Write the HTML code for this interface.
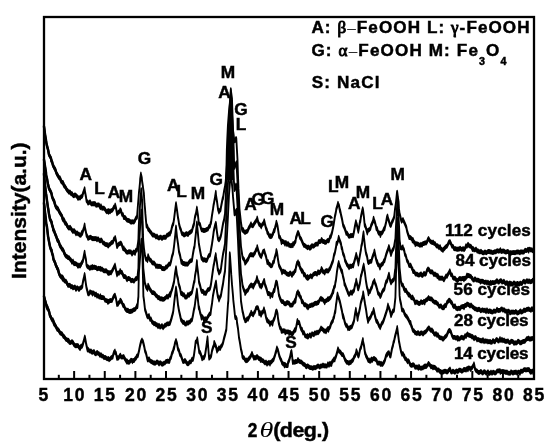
<!DOCTYPE html>
<html><head><meta charset="utf-8"><style>
html,body{margin:0;padding:0;background:#fff;}
svg{display:block;}
text{font-family:"Liberation Sans",Arial,sans-serif;font-weight:bold;fill:#000;}
.sym{font-family:"Liberation Serif","DejaVu Serif",serif;font-weight:normal;}
.st{stroke:#000;stroke-width:0.45px;}
.gk{stroke:#000;stroke-width:0.9px;}
.ns{stroke:none;}
</style></head><body>
<svg width="550" height="447" viewBox="0 0 550 447">
<rect width="550" height="447" fill="#fff"/>
<g fill="none" stroke="#000" stroke-width="1.85" stroke-linejoin="round" stroke-linecap="round" transform="scale(1,2.6)">
<polyline points="44.0,48.60 45.0,51.58 46.0,53.92 46.2,54.63 47.0,56.14 48.0,57.49 48.1,57.63 49.0,59.48 50.0,60.16 51.0,60.91 51.5,62.00 52.0,62.12 53.0,63.67 53.4,63.82 54.0,64.48 55.0,64.87 56.0,66.09 57.0,67.07 57.5,67.14 58.0,67.68 59.0,68.31 60.0,68.44 61.0,69.68 62.0,70.11 62.6,70.20 63.0,70.17 64.0,71.51 65.0,71.71 66.0,72.44 67.0,73.11 68.0,73.47 69.0,73.98 70.0,73.81 71.0,74.51 72.0,74.44 73.0,75.14 74.0,75.35 75.0,74.89 76.0,75.18 77.0,75.51 78.0,76.33 79.0,75.97 80.0,76.27 81.0,75.64 82.0,75.49 82.3,75.28 83.0,74.37 84.0,73.33 84.6,72.58 85.0,73.77 86.0,75.79 86.5,77.13 87.0,77.38 88.0,78.15 89.0,77.94 90.0,77.55 91.0,78.29 92.0,78.47 92.4,78.45 93.0,78.24 94.0,78.53 95.0,78.23 96.0,78.96 97.0,78.89 98.0,78.81 99.0,78.77 100.0,79.68 100.4,79.88 101.0,79.20 102.0,80.13 103.0,80.04 104.0,80.06 105.0,80.45 106.0,81.14 107.0,81.50 108.0,80.99 108.5,81.64 109.0,81.04 110.0,81.51 111.0,81.00 112.0,80.93 113.0,80.44 114.0,79.57 115.0,79.59 115.2,78.86 116.0,80.03 117.0,82.25 117.2,82.07 118.0,81.81 119.0,81.49 120.0,81.17 120.2,80.64 121.0,81.05 122.0,82.45 123.0,82.59 123.8,83.69 124.0,83.72 125.0,83.65 126.0,84.14 126.6,84.44 127.0,84.63 128.0,84.75 129.0,84.89 130.0,85.11 131.0,85.53 132.0,85.26 133.0,85.32 134.0,85.40 135.0,84.76 136.0,83.85 137.0,83.52 138.0,78.61 138.2,77.74 139.0,73.88 139.3,73.00 140.0,70.16 140.2,68.79 140.9,66.95 141.0,67.19 141.8,68.44 142.0,69.49 143.0,72.01 143.1,72.47 143.9,74.48 144.0,75.38 144.5,78.30 145.0,80.20 145.4,82.29 146.0,84.95 146.5,86.97 147.0,86.79 148.0,87.94 148.1,88.16 149.0,88.40 150.0,88.98 151.0,89.48 152.0,90.07 153.0,90.47 154.0,90.39 155.0,90.66 156.0,91.21 157.0,90.72 158.0,91.41 159.0,91.59 160.0,91.24 161.0,91.19 162.0,91.75 163.0,91.27 164.0,91.25 165.0,91.24 166.0,91.24 167.0,90.45 168.0,90.41 169.0,90.00 170.0,90.05 170.3,89.56 171.0,89.09 172.0,87.24 173.0,86.18 173.3,86.10 174.0,84.40 175.0,81.27 176.0,78.32 177.0,80.80 178.0,83.74 178.5,84.71 179.0,86.04 180.0,87.60 181.0,88.52 181.4,89.22 182.0,89.87 183.0,89.98 184.0,90.40 185.0,90.24 186.0,89.90 187.0,89.90 188.0,90.23 189.0,89.60 190.0,89.35 191.0,89.09 192.0,88.77 193.0,87.22 194.0,86.16 194.5,84.68 195.0,83.44 196.0,82.09 196.9,80.04 197.0,80.44 198.0,82.93 198.8,85.80 199.0,85.98 200.0,86.32 201.0,87.80 201.5,88.39 202.0,88.38 203.0,88.56 204.0,88.65 205.0,88.62 206.0,88.44 207.0,88.22 208.0,88.05 209.0,87.14 210.0,86.98 210.6,85.89 211.0,85.63 212.0,82.82 213.0,80.42 213.6,78.83 214.0,78.10 215.0,75.96 215.8,73.97 216.0,75.21 217.0,77.47 217.8,79.82 218.0,80.41 219.0,81.56 220.0,80.69 220.5,80.79 221.0,79.62 222.0,77.62 222.7,76.31 223.0,76.22 224.0,73.68 225.0,71.79 225.7,69.86 226.0,68.12 227.0,63.07 228.0,57.98 229.0,47.13 229.5,42.58 230.0,39.59 230.8,34.51 231.0,35.23 232.0,38.01 233.0,50.12 234.0,53.41 234.5,54.20 235.0,54.03 236.0,53.28 236.3,53.29 237.0,58.02 237.5,61.51 238.0,67.56 238.5,72.62 239.0,76.51 239.5,80.42 240.0,82.22 241.0,85.76 242.0,88.22 242.3,88.60 243.0,88.23 244.0,89.09 245.0,89.40 245.1,89.44 246.0,89.13 247.0,89.02 248.0,88.58 248.1,88.33 249.0,87.55 250.0,86.98 251.0,86.10 251.2,86.36 252.0,86.81 253.0,86.89 253.2,86.69 254.0,86.16 255.0,85.56 256.0,84.99 257.0,84.38 257.2,83.85 258.0,85.18 259.0,86.19 259.2,86.24 260.0,86.50 261.0,87.00 261.2,87.26 262.0,86.49 263.0,86.10 264.0,85.24 264.2,84.92 265.0,86.28 266.0,87.79 267.0,88.58 267.3,89.32 268.0,89.64 269.0,90.52 270.0,91.03 270.3,90.65 271.0,91.01 272.0,90.74 272.5,90.17 273.0,89.87 274.0,88.59 274.5,88.75 275.0,87.75 276.0,86.24 276.4,85.46 277.0,86.21 277.6,87.14 278.0,88.17 278.9,90.40 279.0,90.94 280.0,91.29 281.0,92.31 281.5,93.33 282.0,92.73 283.0,92.93 284.0,93.09 285.0,93.96 285.3,93.36 286.0,93.28 287.0,94.14 288.0,93.58 289.0,94.34 289.1,94.20 290.0,94.39 291.0,94.55 292.0,94.26 292.9,94.51 293.0,93.75 294.0,93.83 295.0,93.00 295.5,92.89 296.0,91.47 297.0,90.34 297.4,89.82 298.0,89.32 299.0,90.07 299.3,90.44 300.0,91.39 301.0,91.85 301.8,92.59 302.0,92.77 303.0,93.70 304.0,94.42 304.4,94.32 305.0,94.49 306.0,94.82 307.0,95.09 307.5,95.31 308.0,94.94 309.0,95.20 310.0,95.52 310.7,94.92 311.0,95.17 312.0,94.43 313.0,94.71 314.0,94.57 314.5,94.39 315.0,94.15 316.0,93.92 317.0,93.87 318.0,93.91 318.4,93.14 319.0,92.83 320.0,92.99 321.0,92.72 321.5,92.13 322.0,92.27 323.0,92.95 324.0,92.88 324.7,93.25 325.0,93.11 326.0,93.21 327.0,92.71 328.0,92.38 328.5,92.68 329.0,92.55 330.0,91.20 331.0,90.84 331.1,90.50 332.0,89.49 333.0,87.67 333.6,86.44 334.0,85.48 335.0,83.01 335.5,82.29 336.0,81.24 336.3,80.47 337.0,79.64 338.0,78.17 338.1,78.45 339.0,79.09 340.0,81.24 340.1,80.90 341.0,82.59 342.0,84.22 343.0,86.31 343.2,86.64 344.0,87.22 345.0,88.18 346.0,89.42 346.2,89.75 347.0,89.64 348.0,90.33 349.0,90.92 350.0,90.85 350.2,90.71 351.0,90.51 352.0,90.70 353.0,90.40 353.2,90.62 354.0,89.14 355.0,86.85 355.9,85.25 356.0,85.45 357.0,86.68 358.0,88.45 358.3,88.98 359.0,87.67 360.0,85.13 360.3,85.11 361.0,83.24 362.0,81.40 362.7,80.33 363.0,80.67 364.0,83.79 364.7,86.65 365.0,86.51 366.0,87.75 367.0,89.14 367.3,89.59 368.0,88.62 369.0,88.43 370.0,88.03 370.4,87.87 371.0,86.89 372.0,86.02 373.0,85.15 373.6,83.90 374.0,84.59 375.0,85.59 376.0,87.12 376.4,88.04 377.0,87.87 378.0,89.17 379.0,89.76 380.0,89.59 380.4,90.60 381.0,89.74 382.0,89.54 383.0,88.97 384.0,87.98 384.5,88.05 385.0,87.19 386.0,85.65 387.0,83.47 387.5,83.08 388.0,83.98 389.0,85.14 390.0,86.44 390.5,86.76 391.0,86.59 392.0,85.41 393.0,84.69 394.0,83.61 394.2,83.29 395.0,80.51 395.9,78.21 396.0,77.85 397.0,73.94 397.2,73.90 398.0,76.27 398.6,77.73 399.0,80.36 399.5,81.98 400.0,82.79 401.0,84.43 401.6,85.09 402.0,84.85 403.0,84.44 404.0,85.30 405.0,86.18 406.0,87.09 406.3,87.29 407.0,88.76 408.0,90.03 409.0,91.07 409.1,91.38 410.0,91.33 411.0,91.58 412.0,92.03 412.5,92.65 413.0,92.16 414.0,93.14 415.0,93.45 415.3,94.09 416.0,93.76 417.0,93.80 418.0,93.93 419.0,94.13 420.0,94.40 421.0,93.95 422.0,94.34 423.0,93.60 424.0,93.68 424.7,93.48 425.0,93.35 426.0,93.50 427.0,92.99 428.0,92.02 428.6,91.75 429.0,92.08 430.0,92.68 431.0,93.05 432.0,93.28 432.6,93.32 433.0,93.03 434.0,93.58 435.0,93.71 436.0,94.34 437.0,94.70 437.3,94.46 438.0,94.64 439.0,95.33 440.0,94.83 441.0,95.75 442.0,96.03 443.0,96.28 443.5,95.85 444.0,95.76 445.0,95.30 446.0,94.85 447.0,94.66 448.0,93.87 449.0,93.00 449.8,93.10 450.0,92.90 451.0,93.77 452.0,94.64 453.0,94.73 454.0,95.61 455.0,95.68 456.0,95.68 457.0,95.88 457.6,95.93 458.0,95.66 459.0,95.92 460.0,95.42 461.0,95.80 462.0,95.88 463.0,95.64 463.9,95.71 464.0,96.04 465.0,95.59 466.0,94.51 467.0,94.73 467.6,94.34 468.0,93.93 469.0,94.49 470.0,94.64 471.0,94.78 472.0,95.47 472.5,95.97 473.0,95.48 474.0,96.13 475.0,96.11 476.0,95.73 477.0,96.54 478.0,96.45 479.0,96.89 480.0,96.83 480.4,96.91 481.0,96.58 482.0,97.06 483.0,97.23 484.0,97.22 485.0,96.88 486.0,97.23 487.0,97.03 488.0,96.74 489.0,96.73 490.0,96.82 490.4,96.95 491.0,96.86 492.0,97.08 493.0,97.18 494.0,96.93 495.0,96.74 496.0,96.86 497.0,96.45 498.0,96.50 499.0,96.68 500.0,96.26 500.5,96.01 501.0,96.73 502.0,96.68 503.0,96.47 504.0,96.59 505.0,96.85 506.0,97.02 507.0,96.80 508.0,96.71 509.0,97.01 510.0,97.65 510.6,97.13 511.0,97.42 512.0,97.15 513.0,97.14 514.0,97.08 515.0,97.27 516.0,97.03 517.0,96.88 518.0,96.93 519.0,96.96 520.0,97.24 520.7,96.82 521.0,96.75 522.0,97.01 523.0,96.84 524.0,96.98 525.0,96.24 526.0,96.43 527.0,96.29 528.0,95.81 528.7,96.58 529.0,95.91 530.0,95.83 531.0,96.22 532.0,95.98 532.5,96.42"/>
<polyline points="44.0,61.40 45.0,63.93 46.0,66.41 46.2,67.55 47.0,68.66 48.0,71.04 48.1,70.93 49.0,72.50 50.0,73.18 51.0,73.95 51.5,74.38 52.0,75.51 53.0,76.60 53.4,76.85 54.0,77.15 55.0,78.58 56.0,79.66 57.0,80.13 57.5,80.00 58.0,80.39 59.0,81.19 60.0,82.00 61.0,82.51 62.0,83.16 62.6,84.09 63.0,84.55 64.0,84.51 65.0,85.82 66.0,85.91 67.0,86.77 68.0,87.42 69.0,87.80 70.0,87.33 71.0,87.94 72.0,88.51 73.0,89.12 74.0,88.62 75.0,89.11 76.0,89.91 77.0,89.53 78.0,89.95 79.0,90.07 80.0,90.55 81.0,90.39 82.0,89.30 82.3,89.71 83.0,88.78 84.0,87.56 84.6,86.51 85.0,87.73 86.0,89.38 86.5,90.51 87.0,90.63 88.0,91.72 89.0,91.47 90.0,91.31 91.0,91.25 92.0,91.78 92.4,91.69 93.0,91.85 94.0,91.65 95.0,91.85 96.0,91.64 97.0,92.28 98.0,91.76 99.0,92.29 100.0,92.68 100.4,92.65 101.0,92.26 102.0,92.63 103.0,93.42 104.0,93.48 105.0,93.92 106.0,94.14 107.0,93.98 108.0,94.62 108.5,94.58 109.0,94.12 110.0,93.98 111.0,93.52 112.0,93.21 113.0,93.12 114.0,91.87 115.0,91.83 115.2,91.32 116.0,92.65 117.0,94.88 117.2,94.84 118.0,94.23 119.0,93.79 120.0,93.70 120.2,93.54 121.0,93.50 122.0,94.31 123.0,95.60 123.8,95.40 124.0,95.79 125.0,96.05 126.0,96.76 126.6,96.83 127.0,97.05 128.0,96.96 129.0,96.78 130.0,96.91 131.0,96.92 132.0,97.71 133.0,97.15 134.0,96.85 135.0,97.50 136.0,96.18 137.0,96.20 137.3,95.27 138.0,93.49 138.4,92.05 138.8,86.84 139.0,85.36 140.0,78.98 140.3,77.16 141.0,74.27 141.2,72.93 142.0,76.59 142.1,76.87 142.7,86.18 143.0,90.31 143.2,92.39 144.0,95.68 144.5,97.04 145.0,98.31 145.5,99.20 146.0,99.73 147.0,99.71 147.5,100.24 148.0,99.01 148.1,98.36 149.0,99.28 150.0,99.97 151.0,100.21 152.0,100.94 153.0,101.21 154.0,101.16 155.0,101.59 156.0,102.50 157.0,102.19 158.0,102.59 159.0,102.34 160.0,102.52 161.0,102.54 162.0,103.31 163.0,103.19 164.0,103.39 165.0,103.25 166.0,102.65 167.0,102.70 168.0,102.09 169.0,101.55 170.0,101.62 170.3,101.45 171.0,100.50 172.0,98.65 173.0,97.50 173.3,96.74 174.0,94.87 175.0,91.34 176.0,87.30 177.0,91.17 178.0,93.75 178.5,95.31 179.0,96.77 180.0,98.14 181.0,100.11 181.4,100.92 182.0,100.53 183.0,101.44 184.0,101.27 185.0,101.67 186.0,101.44 187.0,101.65 188.0,101.50 189.0,100.93 190.0,100.43 191.0,100.28 192.0,100.06 193.0,97.54 194.0,95.41 194.5,94.87 195.0,92.88 196.0,89.26 196.9,85.79 197.0,86.14 198.0,90.14 198.8,93.51 199.0,94.05 200.0,96.22 201.0,98.30 201.5,99.33 202.0,99.32 203.0,100.07 204.0,99.85 205.0,99.93 206.0,100.23 207.0,100.08 208.0,98.96 209.0,98.26 210.0,98.13 210.6,97.01 211.0,96.08 212.0,93.83 213.0,91.23 213.6,89.31 214.0,88.47 215.0,86.78 215.8,85.84 216.0,86.11 217.0,89.38 217.8,91.43 218.0,91.87 219.0,92.28 220.0,91.65 220.5,91.11 221.0,90.49 222.0,88.40 223.0,86.12 224.0,84.66 225.0,82.32 226.0,73.86 227.0,65.15 228.0,59.89 229.0,53.77 230.0,48.92 230.8,44.96 231.0,46.09 232.0,50.12 232.5,52.08 233.0,55.48 234.0,61.73 234.5,64.38 235.0,63.67 236.0,63.03 236.4,62.57 237.0,66.35 238.0,73.38 239.0,82.10 239.5,86.34 240.0,89.18 241.0,94.94 242.0,97.57 242.5,98.83 243.0,99.29 244.0,99.80 245.0,100.90 245.1,101.23 246.0,100.79 247.0,100.21 248.0,99.65 248.1,99.71 249.0,98.77 250.0,98.08 251.0,97.85 251.2,98.00 252.0,97.90 253.0,98.16 253.2,98.18 254.0,97.65 255.0,97.20 256.0,96.10 257.0,95.79 257.2,94.89 258.0,95.98 259.0,97.35 259.2,97.48 260.0,98.19 261.0,98.56 261.2,98.73 262.0,97.93 263.0,96.75 264.0,96.61 264.2,96.47 265.0,97.50 266.0,98.67 267.0,100.44 267.3,101.03 268.0,100.61 269.0,101.60 270.0,101.79 270.3,102.06 271.0,102.29 272.0,102.17 272.5,101.80 273.0,100.90 274.0,100.62 274.5,99.45 275.0,98.78 276.0,97.47 276.4,96.31 277.0,97.13 277.6,98.63 278.0,99.81 278.9,101.89 279.0,102.05 280.0,102.84 281.0,103.59 281.5,104.15 282.0,104.90 283.0,104.22 284.0,104.51 285.0,104.64 285.3,104.57 286.0,105.05 287.0,105.36 288.0,105.55 289.0,105.46 289.1,105.65 290.0,104.94 291.0,105.25 292.0,105.93 292.9,105.16 293.0,105.28 294.0,104.89 295.0,104.10 295.5,104.06 296.0,102.74 297.0,101.20 297.4,101.18 298.0,100.73 299.0,101.94 299.3,101.42 300.0,102.87 301.0,103.58 301.8,104.36 302.0,104.01 303.0,104.53 304.0,105.77 304.4,105.47 305.0,105.67 306.0,106.57 307.0,106.93 307.5,106.32 308.0,107.10 309.0,106.59 310.0,106.33 310.7,105.99 311.0,106.19 312.0,106.55 313.0,105.69 314.0,105.36 314.5,105.27 315.0,105.16 316.0,105.17 317.0,105.49 318.0,104.52 318.4,104.55 319.0,104.98 320.0,104.60 321.0,104.15 321.5,103.26 322.0,103.57 323.0,104.55 324.0,104.54 324.7,105.03 325.0,104.60 326.0,104.08 327.0,104.13 328.0,104.25 328.5,104.15 329.0,103.76 330.0,103.27 331.0,102.33 332.0,101.22 332.5,100.80 333.0,100.27 334.0,98.06 334.4,97.78 335.0,96.99 336.0,95.08 336.5,93.55 337.0,93.76 338.0,92.61 338.7,91.27 339.0,91.71 340.0,92.80 341.0,93.82 341.6,95.36 342.0,95.46 343.0,97.44 344.0,98.29 344.5,98.97 345.0,100.15 346.0,100.84 347.0,101.78 348.0,102.26 348.9,102.79 349.0,103.00 350.0,102.25 351.0,102.53 352.0,102.31 353.0,101.90 353.3,102.28 354.0,101.02 355.0,99.74 356.0,98.17 356.2,97.83 357.0,98.99 358.0,100.61 358.4,101.52 359.0,100.21 360.0,98.02 361.0,95.87 361.3,94.73 362.0,93.76 363.0,90.82 363.5,89.54 364.0,91.49 365.0,94.91 365.6,96.47 366.0,97.36 367.0,98.57 368.0,100.74 368.5,101.03 369.0,100.87 370.0,100.55 371.0,100.49 371.5,100.41 372.0,99.46 373.0,98.32 374.0,97.42 374.4,96.49 375.0,97.69 376.0,99.52 377.0,100.90 377.3,100.67 378.0,101.81 379.0,101.96 380.0,103.10 380.2,102.65 381.0,101.98 382.0,101.64 383.0,101.30 384.0,100.22 384.5,100.30 385.0,99.58 386.0,98.11 387.0,96.92 388.0,95.96 388.9,94.83 389.0,94.93 390.0,96.45 391.0,97.91 391.1,97.77 392.0,96.65 393.0,95.91 393.5,95.65 394.0,94.96 395.0,92.70 395.4,91.92 396.0,86.76 397.0,79.80 397.5,76.10 398.0,79.78 399.0,86.54 399.6,92.34 400.0,93.60 400.6,95.30 401.0,95.31 402.0,95.38 402.8,94.95 403.0,95.40 404.0,96.03 405.0,97.89 405.8,98.35 406.0,98.67 407.0,100.19 408.0,100.77 408.5,101.25 409.0,102.03 410.0,102.21 410.5,101.92 411.0,102.26 412.0,103.34 412.5,103.41 413.0,104.45 414.0,104.40 415.0,105.03 415.3,105.31 416.0,105.46 417.0,105.46 418.0,105.71 419.0,105.80 420.0,105.66 421.0,105.29 422.0,106.03 423.0,105.71 424.0,105.08 424.7,105.37 425.0,105.51 426.0,105.27 427.0,103.96 428.0,103.44 428.6,103.60 429.0,103.67 430.0,104.40 431.0,104.64 432.0,104.48 432.6,104.74 433.0,105.02 434.0,105.62 435.0,105.31 436.0,105.81 437.0,105.85 437.3,106.45 438.0,106.02 439.0,107.06 440.0,106.88 441.0,107.13 442.0,106.88 443.0,107.21 443.5,107.53 444.0,107.65 445.0,106.86 446.0,106.14 447.0,106.26 448.0,105.45 449.0,104.82 449.8,104.11 450.0,104.34 451.0,105.66 452.0,105.71 453.0,106.84 454.0,107.09 455.0,107.01 456.0,107.56 457.0,107.86 457.6,107.91 458.0,107.79 459.0,107.24 460.0,107.06 461.0,107.36 462.0,107.20 463.0,107.04 463.9,107.63 464.0,106.98 465.0,107.16 466.0,106.88 467.0,105.75 467.6,106.25 468.0,105.88 469.0,105.99 470.0,106.24 471.0,106.38 472.0,107.08 472.5,107.11 473.0,107.62 474.0,107.74 475.0,107.17 476.0,107.63 477.0,107.76 478.0,107.71 479.0,107.92 480.0,108.07 480.4,108.53 481.0,108.23 482.0,108.08 483.0,108.23 484.0,108.49 485.0,108.66 486.0,108.42 487.0,108.90 488.0,108.50 489.0,108.98 490.0,108.98 490.4,108.60 491.0,109.08 492.0,108.66 493.0,108.70 494.0,108.67 495.0,108.60 496.0,108.34 497.0,107.89 498.0,108.48 499.0,108.46 500.0,108.03 500.5,108.06 501.0,107.84 502.0,108.53 503.0,108.45 504.0,108.14 505.0,108.80 506.0,109.08 507.0,108.60 508.0,109.32 509.0,108.96 510.0,108.79 510.6,109.36 511.0,109.00 512.0,109.34 513.0,109.18 514.0,108.72 515.0,109.09 516.0,109.37 517.0,109.00 518.0,109.04 519.0,109.32 520.0,108.91 520.7,108.94 521.0,108.98 522.0,109.07 523.0,108.36 524.0,108.13 525.0,108.61 526.0,108.29 527.0,107.92 528.0,108.33 528.7,108.23 529.0,107.93 530.0,108.38 531.0,108.28 532.0,108.24 532.5,107.84"/>
<polyline points="44.0,66.86 45.0,71.06 46.0,74.51 46.2,74.84 47.0,77.16 48.0,80.00 48.1,79.99 49.0,82.30 50.0,84.29 51.0,85.09 51.5,85.31 52.0,86.43 53.0,87.62 53.4,88.55 54.0,88.66 55.0,89.90 56.0,90.68 57.0,91.84 57.5,92.47 58.0,92.48 59.0,93.32 60.0,94.60 61.0,94.95 62.0,95.84 62.6,95.90 63.0,96.07 64.0,97.05 65.0,97.99 66.0,98.47 67.0,98.68 68.0,99.10 69.0,99.13 70.0,99.67 71.0,100.04 72.0,100.90 73.0,100.41 74.0,101.45 75.0,101.29 76.0,101.53 77.0,101.65 78.0,102.44 79.0,101.87 80.0,102.37 81.0,101.73 82.0,100.86 82.3,100.70 83.0,100.13 84.0,98.14 84.6,96.99 85.0,98.17 86.0,99.99 86.5,101.83 87.0,102.30 88.0,102.67 89.0,102.86 90.0,103.30 91.0,102.68 92.0,103.05 92.4,102.49 93.0,102.98 94.0,102.66 95.0,102.92 96.0,102.84 97.0,103.37 98.0,103.32 99.0,103.17 100.0,103.40 100.4,103.19 101.0,103.67 102.0,103.40 103.0,103.89 104.0,104.16 105.0,104.19 106.0,104.09 107.0,104.43 108.0,105.08 108.5,104.79 109.0,105.20 110.0,104.77 111.0,105.00 112.0,104.28 113.0,103.56 114.0,102.75 115.0,101.97 115.2,102.35 116.0,103.88 117.0,105.73 117.2,105.41 118.0,104.93 119.0,105.14 120.0,104.36 120.2,104.02 121.0,104.73 122.0,104.79 123.0,105.76 123.8,106.36 124.0,106.37 125.0,106.34 126.0,106.69 126.6,107.36 127.0,107.65 128.0,107.10 129.0,107.11 130.0,107.31 131.0,108.04 132.0,107.77 133.0,107.92 134.0,108.19 135.0,107.60 136.0,107.05 137.0,107.22 137.5,106.46 138.0,104.58 138.4,103.26 138.8,95.85 139.0,94.38 140.0,88.09 140.4,85.23 141.0,83.25 141.3,81.17 142.0,84.81 142.2,85.28 142.8,96.44 143.0,98.87 143.3,103.23 144.0,105.61 144.8,108.59 145.0,109.00 146.0,110.32 147.0,110.90 147.5,111.29 148.0,110.24 148.1,109.70 149.0,110.45 150.0,111.29 151.0,111.86 152.0,112.51 153.0,112.58 154.0,112.68 155.0,113.02 156.0,113.66 157.0,113.87 158.0,114.56 159.0,114.37 160.0,114.92 161.0,114.86 162.0,115.00 163.0,115.16 164.0,115.05 165.0,114.73 166.0,114.39 167.0,113.93 168.0,114.37 169.0,113.69 170.0,112.91 170.3,113.55 171.0,112.44 172.0,111.34 173.0,110.03 173.3,109.40 174.0,108.49 175.0,105.27 176.0,103.00 177.0,105.89 178.0,107.38 178.5,108.88 179.0,109.58 180.0,110.80 181.0,112.87 181.4,112.97 182.0,112.76 183.0,113.46 184.0,113.31 185.0,114.23 186.0,114.24 187.0,114.14 188.0,113.21 189.0,113.65 190.0,113.00 191.0,112.84 192.0,112.37 193.0,110.56 194.0,108.58 194.5,108.13 195.0,106.17 196.0,104.06 196.9,100.59 197.0,101.80 198.0,104.73 198.8,107.55 199.0,108.45 200.0,109.71 201.0,111.38 201.5,111.87 202.0,112.14 203.0,111.95 204.0,112.81 205.0,112.59 206.0,112.93 207.0,111.98 208.0,111.40 209.0,111.32 210.0,110.92 210.6,110.07 211.0,109.28 212.0,106.50 213.0,103.70 213.6,102.18 214.0,101.56 215.0,99.17 215.8,97.94 216.0,98.89 217.0,101.21 217.8,103.62 218.0,103.67 219.0,105.02 220.0,104.50 220.5,104.19 221.0,103.21 222.0,100.41 223.0,97.80 224.0,96.00 225.0,93.82 226.0,85.34 227.0,77.00 228.0,70.29 229.0,63.22 230.0,57.83 230.8,53.48 231.0,54.45 232.0,59.28 232.5,61.31 233.0,64.78 234.0,70.25 234.5,72.93 235.0,72.51 236.0,71.13 236.4,71.37 237.0,75.71 238.0,82.57 239.0,91.87 239.5,95.94 240.0,99.10 241.0,105.52 242.0,108.05 242.5,109.71 243.0,110.34 244.0,111.59 245.0,112.18 245.1,112.92 246.0,112.30 247.0,111.81 248.0,111.54 248.1,111.44 249.0,110.59 250.0,110.07 251.0,109.60 251.2,109.53 252.0,110.02 253.0,109.73 253.2,110.45 254.0,109.74 255.0,108.88 256.0,108.34 257.0,106.78 257.2,107.21 258.0,108.26 259.0,108.71 259.2,109.38 260.0,110.01 261.0,109.79 261.2,110.38 262.0,109.91 263.0,108.83 264.0,107.91 264.2,107.85 265.0,109.51 266.0,110.49 267.0,111.75 267.3,112.28 268.0,113.05 269.0,112.88 270.0,113.12 270.3,114.11 271.0,113.40 272.0,113.29 272.5,113.74 273.0,112.62 274.0,111.48 274.5,111.73 275.0,110.28 276.0,108.53 276.4,108.50 277.0,108.71 277.6,110.19 278.0,110.85 278.9,113.48 279.0,113.48 280.0,114.67 281.0,115.57 281.5,115.86 282.0,116.03 283.0,115.99 284.0,116.63 285.0,116.87 285.3,116.75 286.0,116.88 287.0,116.28 288.0,116.54 289.0,116.60 289.1,116.56 290.0,117.35 291.0,117.34 292.0,117.39 292.9,117.11 293.0,116.64 294.0,116.33 295.0,115.39 295.5,115.88 296.0,114.42 297.0,112.72 297.4,112.63 298.0,112.25 299.0,113.42 299.3,113.00 300.0,114.03 301.0,114.51 301.8,116.03 302.0,115.69 303.0,116.23 304.0,117.10 304.4,117.27 305.0,117.14 306.0,117.33 307.0,118.05 307.5,117.70 308.0,118.42 309.0,117.81 310.0,117.52 310.7,117.58 311.0,117.32 312.0,117.30 313.0,117.30 314.0,116.97 314.5,116.80 315.0,116.66 316.0,116.63 317.0,116.70 318.0,116.18 318.4,116.41 319.0,115.88 320.0,115.11 321.0,114.71 321.5,115.12 322.0,114.99 323.0,115.31 324.0,115.85 324.7,116.45 325.0,115.94 326.0,115.67 327.0,115.41 328.0,114.83 328.5,115.19 329.0,114.96 330.0,114.63 330.6,114.38 331.0,114.02 332.0,113.29 333.0,111.84 333.3,112.29 334.0,110.58 335.0,109.96 335.3,108.93 336.0,107.60 337.0,104.39 338.0,102.05 338.7,100.96 339.0,101.56 340.0,102.62 341.0,103.71 341.6,104.44 342.0,104.28 343.0,106.32 344.0,107.81 344.5,109.27 345.0,109.44 346.0,110.59 347.0,111.52 348.0,112.59 348.9,113.09 349.0,113.26 350.0,112.83 351.0,112.28 352.0,112.90 353.0,112.05 353.3,112.00 354.0,111.68 355.0,109.72 356.0,108.63 356.2,107.76 357.0,109.14 358.0,111.13 358.4,111.11 359.0,110.33 360.0,108.70 361.0,106.00 361.3,105.84 362.0,104.74 363.0,102.98 363.7,101.98 364.0,102.80 365.0,105.12 365.6,107.06 366.0,108.15 367.0,110.47 368.0,111.70 368.5,113.00 369.0,112.21 370.0,112.13 371.0,111.01 371.5,110.71 372.0,110.32 373.0,108.76 374.0,108.25 374.4,107.89 375.0,108.82 376.0,109.73 377.0,111.13 377.3,111.50 378.0,112.71 379.0,113.06 380.0,113.78 380.2,114.06 381.0,113.60 382.0,112.47 383.0,111.71 384.0,111.33 384.5,110.95 385.0,109.90 386.0,108.49 387.0,108.07 388.0,106.68 388.9,105.47 389.0,105.46 390.0,107.64 391.0,108.81 391.1,108.78 392.0,108.14 393.0,107.79 394.0,107.44 395.0,104.17 395.4,103.49 396.0,96.29 397.0,88.17 397.5,84.38 398.0,88.30 399.0,96.26 399.6,103.07 400.0,104.64 401.0,108.45 402.0,109.57 403.0,109.79 404.0,111.14 404.2,110.85 405.0,111.78 406.0,111.58 407.0,112.48 408.0,112.96 408.5,113.46 409.0,113.23 410.0,113.77 410.5,113.89 411.0,114.39 412.0,114.62 412.5,114.19 413.0,114.63 414.0,115.20 415.0,116.45 415.3,116.15 416.0,116.31 417.0,116.12 418.0,116.53 419.0,116.74 420.0,116.68 421.0,116.00 422.0,116.34 423.0,116.32 424.0,115.85 424.7,116.49 425.0,115.92 426.0,115.44 427.0,115.28 428.0,114.78 428.6,114.42 429.0,114.88 430.0,114.87 431.0,115.01 432.0,115.05 432.6,115.68 433.0,115.64 434.0,116.12 435.0,116.26 436.0,116.27 437.0,116.62 437.3,116.83 438.0,116.91 439.0,117.81 440.0,117.76 441.0,117.65 442.0,118.29 443.0,118.42 443.5,117.99 444.0,118.38 445.0,117.41 446.0,117.63 447.0,116.33 448.0,115.94 449.0,115.40 449.8,115.55 450.0,115.67 451.0,116.20 452.0,116.57 453.0,117.59 454.0,118.01 455.0,117.58 456.0,118.55 457.0,118.65 457.6,118.83 458.0,118.60 459.0,118.48 460.0,118.76 461.0,118.06 462.0,118.05 463.0,117.84 463.9,117.85 464.0,118.38 465.0,117.35 466.0,117.57 467.0,116.87 467.6,117.08 468.0,117.08 469.0,117.29 470.0,117.72 471.0,117.25 472.0,117.74 472.5,117.97 473.0,118.10 474.0,118.46 475.0,118.80 476.0,118.82 477.0,119.14 478.0,119.07 479.0,118.90 480.0,119.18 480.4,119.46 481.0,119.56 482.0,119.20 483.0,119.24 484.0,119.54 485.0,119.24 486.0,119.90 487.0,119.14 488.0,119.80 489.0,119.71 490.0,119.50 490.4,119.86 491.0,119.72 492.0,120.08 493.0,119.92 494.0,119.56 495.0,119.74 496.0,119.66 497.0,118.91 498.0,119.43 499.0,119.35 500.0,119.40 500.5,119.14 501.0,118.86 502.0,118.81 503.0,119.34 504.0,119.05 505.0,119.67 506.0,119.61 507.0,119.97 508.0,119.65 509.0,119.72 510.0,120.39 510.6,120.24 511.0,119.96 512.0,120.11 513.0,119.98 514.0,120.15 515.0,120.02 516.0,119.78 517.0,120.40 518.0,120.29 519.0,120.16 520.0,119.70 520.7,119.60 521.0,120.06 522.0,120.01 523.0,119.72 524.0,119.19 525.0,119.52 526.0,119.21 527.0,118.94 528.0,119.01 528.7,118.78 529.0,118.98 530.0,119.12 531.0,119.38 532.0,118.61 532.5,119.06"/>
<polyline points="44.0,78.10 45.0,81.49 46.0,84.88 46.2,85.83 47.0,87.33 48.0,90.85 48.1,90.98 49.0,92.90 50.0,94.83 51.0,96.11 51.5,96.15 52.0,97.25 53.0,98.45 53.4,99.64 54.0,100.17 55.0,100.94 56.0,102.20 57.0,102.86 57.5,103.48 58.0,103.61 59.0,105.18 60.0,106.01 61.0,106.51 62.0,106.38 62.6,107.35 63.0,106.79 64.0,107.77 65.0,108.16 66.0,108.18 67.0,108.94 68.0,109.78 69.0,109.76 70.0,109.70 71.0,110.39 72.0,110.12 73.0,110.78 74.0,110.49 75.0,110.35 76.0,111.33 77.0,110.66 78.0,110.86 79.0,111.37 80.0,110.80 81.0,110.63 82.0,110.35 82.3,109.93 83.0,108.32 84.0,106.72 84.6,105.60 85.0,106.53 86.0,109.49 86.5,110.67 87.0,111.31 88.0,112.99 89.0,113.04 90.0,112.21 91.0,112.46 92.0,112.56 92.4,113.11 93.0,112.65 94.0,112.76 95.0,113.45 96.0,113.04 97.0,113.94 98.0,113.62 99.0,114.19 100.0,114.27 100.4,113.77 101.0,114.46 102.0,114.39 103.0,114.48 104.0,114.58 105.0,115.45 106.0,115.57 107.0,115.59 108.0,116.33 108.5,115.87 109.0,116.03 110.0,115.54 111.0,115.63 112.0,115.55 113.0,114.62 114.0,113.86 115.0,113.50 115.2,113.79 116.0,114.83 117.0,117.13 117.2,116.71 118.0,117.04 119.0,116.30 120.0,115.98 120.2,115.44 121.0,115.69 122.0,116.43 123.0,117.49 123.8,117.45 124.0,117.61 125.0,118.64 126.0,119.14 126.6,119.37 127.0,119.42 128.0,119.33 129.0,119.79 130.0,119.80 131.0,119.72 132.0,119.65 133.0,119.33 134.0,119.12 135.0,119.00 136.0,118.50 137.0,117.50 137.5,117.93 138.0,115.54 138.4,114.07 138.8,106.13 139.0,104.39 140.0,99.34 140.5,96.58 141.0,94.02 141.4,92.35 142.0,95.28 142.3,96.51 142.9,106.04 143.0,107.30 143.4,113.94 144.0,115.51 145.0,118.99 146.0,120.18 147.0,121.51 148.0,121.93 148.1,121.70 149.0,121.37 150.0,122.81 151.0,122.69 152.0,123.79 153.0,124.10 154.0,124.53 155.0,124.40 156.0,124.91 157.0,124.85 158.0,125.65 159.0,125.05 160.0,125.83 161.0,125.63 162.0,125.20 163.0,126.08 164.0,125.57 165.0,125.09 166.0,125.02 167.0,124.56 168.0,124.54 169.0,124.51 170.0,124.35 170.3,123.89 171.0,123.13 172.0,121.73 173.0,120.26 173.3,119.54 174.0,117.12 175.0,113.74 176.0,110.80 177.0,113.60 178.0,117.21 178.5,118.37 179.0,119.47 180.0,121.14 181.0,122.93 181.4,123.17 182.0,123.42 183.0,124.08 184.0,123.90 185.0,124.58 186.0,124.70 187.0,124.02 188.0,124.39 189.0,123.92 190.0,123.90 191.0,123.18 192.0,123.06 193.0,121.19 194.0,118.93 194.5,118.32 195.0,116.94 196.0,113.95 196.9,111.54 197.0,112.13 198.0,115.61 198.8,118.48 199.0,118.15 200.0,120.07 201.0,121.40 201.5,122.39 202.0,121.68 203.0,122.14 204.0,123.18 205.0,122.54 206.0,122.76 207.0,122.57 208.0,121.74 209.0,121.14 210.0,120.60 210.6,120.60 211.0,119.14 212.0,116.76 213.0,113.70 213.6,112.51 214.0,111.68 215.0,109.97 215.8,108.63 216.0,108.45 217.0,112.06 217.8,113.96 218.0,113.90 219.0,115.37 220.0,114.26 220.5,114.01 221.0,113.48 222.0,111.20 223.0,109.18 224.0,106.42 225.0,104.25 226.0,97.39 227.0,90.38 228.0,82.89 229.0,74.81 230.0,69.88 230.8,65.46 231.0,66.09 232.0,71.08 232.5,72.68 233.0,75.57 234.0,80.00 234.5,82.27 235.0,82.16 236.0,81.19 236.4,80.87 237.0,84.98 238.0,92.70 239.0,101.54 239.5,105.45 240.0,108.52 241.0,115.81 242.0,118.38 242.5,119.64 243.0,120.38 244.0,122.22 245.0,123.10 245.1,123.41 246.0,123.35 247.0,122.67 248.0,122.56 248.1,122.80 249.0,122.03 250.0,121.19 251.0,120.49 251.2,120.06 252.0,120.68 253.0,121.07 253.2,121.09 254.0,120.38 255.0,119.84 256.0,118.56 257.0,118.25 257.2,118.35 258.0,118.41 259.0,119.79 259.2,120.70 260.0,120.18 261.0,121.24 261.2,121.10 262.0,120.12 263.0,120.00 264.0,118.78 264.2,119.43 265.0,120.02 266.0,121.96 267.0,123.31 267.3,123.01 268.0,123.58 269.0,123.81 270.0,124.84 270.3,124.36 271.0,124.22 272.0,124.09 272.5,124.69 273.0,123.64 274.0,122.76 274.5,122.39 275.0,121.63 276.0,119.78 276.4,119.59 277.0,119.89 277.6,120.89 278.0,122.42 278.9,124.52 279.0,124.54 280.0,126.05 281.0,126.45 281.5,127.43 282.0,127.44 283.0,127.18 284.0,127.30 285.0,127.24 285.3,128.00 286.0,127.67 287.0,127.68 288.0,127.63 289.0,127.78 289.1,128.39 290.0,127.75 291.0,128.20 292.0,128.31 292.9,128.26 293.0,128.19 294.0,127.50 295.0,126.72 295.5,127.01 296.0,126.22 297.0,124.19 297.4,123.22 298.0,124.13 299.0,123.98 299.3,124.11 300.0,125.23 301.0,126.42 301.8,126.98 302.0,126.67 303.0,128.07 304.0,127.91 304.4,128.32 305.0,129.10 306.0,129.23 307.0,129.51 307.5,129.04 308.0,129.69 309.0,129.16 310.0,128.68 310.7,129.32 311.0,129.39 312.0,128.37 313.0,128.55 314.0,128.76 314.5,128.13 315.0,128.01 316.0,128.25 317.0,127.75 318.0,128.06 318.4,127.86 319.0,127.60 320.0,127.03 321.0,126.12 321.5,126.36 322.0,126.47 323.0,126.81 324.0,127.30 324.7,127.36 325.0,127.19 326.0,127.60 327.0,126.84 328.0,126.35 328.5,127.02 329.0,126.28 330.0,125.81 330.6,125.12 331.0,124.56 332.0,123.78 333.0,123.28 333.3,122.48 334.0,121.98 335.0,119.87 335.3,119.94 336.0,117.28 336.5,116.10 337.0,114.43 337.5,113.06 338.0,113.95 339.0,114.90 339.4,115.50 340.0,116.21 341.0,117.98 342.0,119.67 343.0,121.89 343.1,121.31 344.0,122.65 345.0,124.21 346.0,125.11 347.0,125.28 348.0,126.44 349.0,126.09 349.6,126.40 350.0,126.04 351.0,125.82 352.0,125.59 353.0,124.45 353.3,124.26 354.0,123.38 355.0,120.78 355.9,118.98 356.0,119.77 357.0,121.23 357.6,122.83 358.0,121.71 359.0,120.19 360.0,118.49 360.5,117.15 361.0,116.21 362.0,114.98 363.0,113.50 363.2,112.59 364.0,114.48 364.9,116.54 365.0,116.89 366.0,118.98 367.0,121.65 367.8,123.12 368.0,123.64 369.0,122.75 370.0,122.24 370.7,121.84 371.0,121.57 372.0,120.59 373.0,120.15 373.6,119.08 374.0,119.68 375.0,121.60 376.0,123.05 376.5,123.59 377.0,123.49 378.0,124.33 379.0,125.25 380.0,125.78 380.2,126.01 381.0,125.16 382.0,124.27 383.0,123.83 384.0,122.78 384.5,122.18 385.0,121.57 386.0,120.42 387.0,119.21 388.0,117.31 388.2,117.82 389.0,118.46 390.0,119.60 391.0,121.42 391.1,121.35 392.0,120.45 393.0,119.57 394.0,119.37 395.0,115.93 395.4,114.50 396.0,105.40 397.0,97.12 397.5,92.47 398.0,97.29 399.0,105.80 399.6,113.65 400.0,115.17 400.5,116.11 401.0,116.86 402.0,119.22 403.0,119.27 404.0,119.88 404.2,120.38 405.0,121.02 406.0,121.52 407.0,121.83 407.1,121.99 408.0,122.55 409.0,123.36 410.0,124.26 410.5,124.02 411.0,124.97 412.0,125.95 412.5,126.69 413.0,127.11 414.0,127.27 415.0,128.01 415.3,127.87 416.0,128.08 417.0,128.31 418.0,127.84 419.0,128.33 420.0,128.39 421.0,128.03 422.0,128.02 423.0,128.49 424.0,127.98 424.7,127.79 425.0,127.74 426.0,127.49 427.0,126.92 428.0,126.41 428.6,126.11 429.0,126.13 430.0,126.69 431.0,127.08 432.0,126.90 432.6,127.55 433.0,127.41 434.0,128.35 435.0,128.63 436.0,128.21 437.0,129.05 437.3,128.82 438.0,128.74 439.0,129.65 440.0,129.87 441.0,129.96 442.0,130.02 443.0,130.53 443.5,130.24 444.0,130.11 445.0,129.59 446.0,129.29 447.0,128.77 448.0,127.75 449.0,127.14 449.8,127.04 450.0,127.23 451.0,127.77 452.0,129.00 453.0,129.74 454.0,129.76 455.0,129.79 456.0,130.10 457.0,129.81 457.6,130.48 458.0,129.83 459.0,130.50 460.0,130.19 461.0,129.82 462.0,129.69 463.0,130.02 463.9,129.85 464.0,130.03 465.0,129.09 466.0,129.42 467.0,128.63 467.6,128.41 468.0,128.79 469.0,128.94 470.0,129.07 471.0,129.20 472.0,129.64 472.5,129.38 473.0,129.65 474.0,130.32 475.0,129.81 476.0,129.92 477.0,130.76 478.0,130.47 479.0,130.75 480.0,130.95 480.4,131.12 481.0,130.79 482.0,131.26 483.0,130.60 484.0,131.44 485.0,130.99 486.0,131.34 487.0,131.10 488.0,131.56 489.0,131.27 490.0,131.53 490.4,131.30 491.0,131.71 492.0,131.57 493.0,130.95 494.0,131.37 495.0,131.45 496.0,130.71 497.0,130.57 498.0,131.16 499.0,131.10 500.0,130.24 500.5,130.79 501.0,130.99 502.0,130.49 503.0,131.08 504.0,130.75 505.0,131.32 506.0,131.17 507.0,131.26 508.0,131.05 509.0,131.65 510.0,131.81 510.6,131.50 511.0,131.26 512.0,131.28 513.0,131.42 514.0,132.07 515.0,131.82 516.0,131.93 517.0,131.78 518.0,131.18 519.0,131.39 520.0,131.89 520.7,131.79 521.0,131.88 522.0,131.58 523.0,131.35 524.0,131.26 525.0,131.27 526.0,130.68 527.0,130.18 528.0,130.31 528.7,129.94 529.0,130.19 530.0,130.52 531.0,130.27 532.0,130.29 532.5,130.16"/>
<polyline points="44.0,114.02 45.0,115.47 46.0,116.83 47.0,118.46 47.2,117.91 48.0,118.86 49.0,119.68 50.0,121.44 50.7,121.85 51.0,122.11 52.0,123.02 53.0,123.04 54.0,124.64 54.3,124.35 55.0,125.09 56.0,125.56 57.0,126.55 57.9,126.74 58.0,126.76 59.0,127.18 60.0,128.06 61.0,128.25 62.0,128.42 63.0,129.04 63.3,129.37 64.0,129.42 65.0,129.95 66.0,130.51 67.0,130.64 68.0,131.12 68.6,130.86 69.0,131.48 70.0,131.78 71.0,131.64 72.0,131.41 73.0,131.71 74.0,132.57 75.0,132.92 75.8,132.98 76.0,132.82 77.0,133.06 78.0,132.88 79.0,133.53 80.0,134.12 81.0,133.09 82.0,133.18 83.0,132.20 84.0,130.83 84.8,129.59 85.0,129.82 86.0,131.95 87.0,133.79 87.5,134.58 88.0,134.26 89.0,134.82 90.0,135.12 91.0,134.96 92.0,135.55 93.0,135.45 93.1,135.30 94.0,135.20 95.0,135.97 96.0,136.09 97.0,135.53 97.5,135.60 98.0,135.93 99.0,136.03 100.0,136.71 101.0,136.40 101.8,136.92 102.0,136.93 103.0,136.94 104.0,137.60 105.0,137.40 106.0,137.66 107.0,138.00 108.0,137.95 108.4,137.83 109.0,138.41 110.0,138.03 111.0,137.65 112.0,137.40 112.7,137.38 113.0,136.77 114.0,135.53 114.9,135.04 115.0,135.48 116.0,135.90 117.0,137.87 117.1,137.42 118.0,137.81 119.0,137.39 120.0,136.72 120.4,136.58 121.0,137.24 122.0,137.38 123.0,137.29 123.6,137.12 124.0,137.31 125.0,138.11 126.0,138.74 126.9,139.27 127.0,138.77 128.0,139.26 129.0,139.38 130.0,139.03 131.0,138.51 132.0,138.67 132.4,139.10 133.0,138.66 134.0,138.72 135.0,138.07 136.0,137.73 137.0,136.84 137.8,136.87 138.0,136.66 139.0,134.94 140.0,133.02 141.0,131.49 142.0,130.77 142.2,131.02 143.0,131.41 144.0,132.92 144.4,133.63 145.0,134.92 146.0,135.86 147.0,137.52 147.6,138.42 148.0,138.48 149.0,137.96 150.0,138.75 151.0,139.04 152.0,139.15 153.0,139.49 154.0,139.64 154.2,139.49 155.0,139.76 156.0,139.51 157.0,139.16 158.0,139.37 159.0,140.02 160.0,139.51 161.0,139.69 162.0,140.11 162.9,139.98 163.0,140.06 164.0,139.64 165.0,139.55 166.0,139.02 167.0,139.00 168.0,138.84 169.0,139.06 169.5,138.99 170.0,138.03 171.0,137.47 172.0,135.91 173.0,135.10 173.8,133.91 174.0,133.98 175.0,131.96 176.0,130.98 177.0,132.16 178.0,134.31 178.2,134.29 179.0,134.95 180.0,136.38 181.0,136.81 182.0,137.98 182.6,138.67 183.0,139.07 184.0,139.00 185.0,138.59 186.0,139.16 187.0,139.81 188.0,139.92 189.0,139.67 189.1,139.46 190.0,139.16 191.0,139.13 192.0,138.12 193.0,138.29 193.5,137.48 194.0,136.47 195.0,133.67 195.6,131.57 196.0,131.52 197.0,130.88 197.3,130.33 198.0,132.23 199.0,134.69 199.1,135.23 200.0,135.53 201.0,136.46 202.0,137.79 202.1,137.97 203.0,137.57 204.0,137.63 205.0,136.65 206.0,134.22 207.0,131.48 207.5,129.88 208.0,132.53 209.0,137.36 209.1,137.77 210.0,137.48 211.0,136.94 211.2,136.78 212.0,134.95 213.0,133.67 214.0,132.78 214.2,131.69 215.0,132.42 216.0,133.31 217.0,135.05 217.2,134.81 218.0,134.43 219.0,133.72 220.0,134.05 220.2,134.07 221.0,133.28 222.0,132.84 223.0,131.88 223.2,131.52 224.0,130.20 225.0,128.81 226.0,127.17 226.3,126.92 227.0,122.54 228.0,116.71 228.3,115.75 229.0,107.27 229.8,97.60 230.0,98.30 231.0,104.03 231.3,105.81 232.0,109.40 233.0,113.76 233.3,115.40 234.0,117.85 235.0,121.58 235.3,122.17 236.0,122.08 236.7,122.68 237.0,124.03 238.0,126.40 239.0,129.83 239.4,130.58 240.0,131.95 241.0,134.34 242.0,135.92 242.4,137.07 243.0,137.43 244.0,137.63 245.0,138.35 246.0,138.82 246.4,138.45 247.0,138.70 248.0,138.37 249.0,137.90 249.6,137.70 250.0,137.38 251.0,136.78 251.8,136.14 252.0,135.90 253.0,137.00 254.0,137.81 255.0,137.45 256.0,137.72 257.0,137.06 257.3,137.24 258.0,137.53 259.0,137.96 260.0,137.97 260.5,138.62 261.0,138.17 262.0,138.68 263.0,138.74 263.8,139.06 264.0,139.26 265.0,139.64 266.0,139.20 267.0,140.08 267.1,139.71 268.0,139.73 269.0,139.31 270.0,140.06 270.4,139.48 271.0,139.29 272.0,138.92 273.0,138.45 273.6,138.27 274.0,137.74 275.0,136.63 275.8,135.41 276.0,135.39 276.9,133.82 277.0,133.96 278.0,134.77 279.0,136.38 279.1,136.56 280.0,137.59 281.0,138.45 281.3,138.60 282.0,139.49 283.0,139.93 284.0,140.17 284.5,140.73 285.0,140.11 286.0,140.65 287.0,140.63 287.8,140.59 288.0,139.53 289.0,138.71 290.0,137.45 291.0,135.48 291.5,135.22 292.0,136.61 292.8,139.47 293.0,139.23 294.0,139.15 295.0,139.36 295.5,138.96 296.0,139.09 297.0,139.12 298.0,138.23 298.7,138.78 299.0,138.94 300.0,139.10 301.0,139.19 302.0,139.43 303.0,139.96 304.0,140.17 305.0,140.35 306.0,141.01 306.4,141.09 307.0,140.78 308.0,140.76 309.0,141.13 310.0,141.39 311.0,141.41 312.0,141.46 312.9,141.75 313.0,141.61 314.0,141.26 315.0,141.48 316.0,141.34 317.0,140.98 318.0,140.75 319.0,140.88 319.5,141.16 320.0,141.16 321.0,140.69 322.0,140.85 323.0,140.36 324.0,140.79 325.0,140.59 326.0,140.82 327.0,140.76 328.0,139.86 329.0,140.54 330.0,139.66 331.0,140.24 331.5,140.18 332.0,139.21 333.0,138.75 334.0,138.08 334.7,138.42 335.0,137.93 336.0,136.98 337.0,135.69 338.0,134.14 339.0,135.10 340.0,135.29 340.2,135.38 341.0,135.77 342.0,136.40 343.0,136.42 343.5,136.82 344.0,137.25 345.0,138.31 346.0,138.86 346.5,139.23 347.0,139.41 348.0,139.41 349.0,139.76 350.0,139.28 350.9,139.43 351.0,139.23 352.0,138.80 353.0,138.44 354.0,137.44 354.2,137.32 355.0,136.84 356.0,135.79 356.4,134.92 357.0,135.45 358.0,136.73 358.5,136.94 359.0,136.52 360.0,134.52 360.7,133.75 361.0,133.65 362.0,131.89 362.9,130.60 363.0,131.36 364.0,132.95 365.0,135.70 365.1,135.64 366.0,136.81 367.0,137.50 368.0,138.47 368.4,138.66 369.0,138.40 370.0,139.09 371.0,138.28 371.6,138.07 372.0,138.75 373.0,138.09 374.0,137.84 374.5,138.00 375.0,138.16 376.0,138.37 377.0,139.04 377.1,139.45 378.0,139.71 379.0,139.54 380.0,139.82 380.4,140.16 381.0,139.67 382.0,140.22 383.0,139.96 383.6,139.41 384.0,139.39 385.0,138.38 386.0,136.89 386.9,136.28 387.0,136.56 388.0,135.71 388.4,135.75 389.0,135.63 390.0,136.89 390.6,136.92 391.0,136.18 392.0,134.09 393.0,132.82 393.5,131.69 394.0,131.31 395.0,129.49 396.0,127.97 397.0,126.44 397.2,125.98 398.0,128.33 399.0,131.32 399.3,131.82 400.0,133.29 401.0,135.18 401.5,135.74 402.0,136.24 403.0,136.03 404.0,137.11 404.4,136.95 405.0,137.91 406.0,138.03 407.0,138.77 407.6,139.14 408.0,138.70 409.0,139.05 410.0,140.09 411.0,140.49 412.0,140.52 413.0,140.26 414.0,140.39 415.0,141.23 416.0,141.25 417.0,141.08 418.0,141.49 418.5,141.67 419.0,140.90 420.0,141.52 421.0,141.66 422.0,141.50 423.0,141.45 424.0,140.98 425.0,141.07 425.1,140.61 426.0,141.01 427.0,140.64 428.0,140.16 428.4,139.74 429.0,140.00 430.0,140.43 431.0,141.13 432.0,140.95 433.0,141.54 433.8,141.10 434.0,141.20 435.0,141.41 436.0,141.69 437.0,142.38 438.0,142.22 439.0,142.40 440.0,142.96 440.4,142.84 441.0,143.23 442.0,143.07 443.0,143.19 444.0,142.82 445.0,142.79 446.0,142.84 447.0,143.12 448.0,142.86 449.0,142.29 449.5,142.11 450.0,141.91 451.0,143.00 452.0,143.14 452.1,143.00 453.0,142.74 454.0,142.99 455.0,143.18 456.0,142.74 457.0,142.70 458.0,142.90 458.1,142.88 459.0,142.37 460.0,142.36 461.0,142.58 462.0,142.83 463.0,142.46 464.0,142.06 464.1,142.26 465.0,142.05 466.0,142.39 467.0,141.71 468.0,142.21 468.2,141.54 469.0,141.57 470.0,141.59 470.5,142.11 471.0,141.83 472.0,141.48 473.0,140.79 473.8,140.19 474.0,139.97 475.0,141.91 476.0,142.42 476.2,142.64 477.0,142.66 478.0,143.14 479.0,143.30 480.0,143.08 480.2,143.04 481.0,142.82 482.0,143.36 483.0,143.46 484.0,142.92 485.0,143.03 486.0,143.50 487.0,143.46 488.0,142.93 489.0,143.72 490.0,143.47 490.3,143.47 491.0,143.08 492.0,143.63 493.0,143.11 494.0,143.25 495.0,143.53 496.0,143.36 497.0,142.72 498.0,142.64 499.0,142.67 500.0,142.55 500.4,143.24 501.0,142.95 502.0,142.92 503.0,142.86 504.0,143.02 505.0,143.00 506.0,143.31 507.0,143.06 508.0,143.52 509.0,143.53 510.0,143.59 510.4,143.50 511.0,142.97 512.0,143.20 513.0,143.58 514.0,143.14 515.0,143.34 516.0,143.00 517.0,143.57 518.0,143.12 519.0,143.14 520.0,143.56 520.5,142.89 521.0,142.70 522.0,142.87 523.0,142.67 524.0,142.14 525.0,142.18 526.0,142.31 527.0,142.20 527.5,142.12 528.0,142.26 529.0,142.11 530.0,142.89 530.5,143.22 531.0,142.74 532.0,143.24 532.5,142.68"/>
</g>
<g fill="none" stroke="#000" stroke-width="2.5" stroke-linejoin="round" stroke-linecap="round" transform="scale(1,2.6)">
<polyline vector-effect="non-scaling-stroke" points="44.0,48.60 45.0,51.58 46.0,53.92 46.2,54.63 47.0,56.14 48.0,57.49 48.1,57.63 49.0,59.48 50.0,60.16 51.0,60.91 51.5,62.00 52.0,62.12 53.0,63.67 53.4,63.82 54.0,64.48 55.0,64.87 56.0,66.09 57.0,67.07 57.5,67.14 58.0,67.68 59.0,68.31 60.0,68.44 61.0,69.68 62.0,70.11 62.6,70.20 63.0,70.17 64.0,71.51 65.0,71.71 66.0,72.44 67.0,73.11 68.0,73.47 69.0,73.98 70.0,73.81 71.0,74.51 72.0,74.44 73.0,75.14 74.0,75.35 75.0,74.89 76.0,75.18 77.0,75.51 78.0,76.33 79.0,75.97 80.0,76.27 81.0,75.64 82.0,75.49"/>
<polyline vector-effect="non-scaling-stroke" points="44.0,61.40 45.0,63.93 46.0,66.41 46.2,67.55 47.0,68.66 48.0,71.04 48.1,70.93 49.0,72.50 50.0,73.18 51.0,73.95 51.5,74.38 52.0,75.51 53.0,76.60 53.4,76.85 54.0,77.15 55.0,78.58 56.0,79.66 57.0,80.13 57.5,80.00 58.0,80.39 59.0,81.19 60.0,82.00 61.0,82.51 62.0,83.16 62.6,84.09 63.0,84.55 64.0,84.51 65.0,85.82 66.0,85.91 67.0,86.77 68.0,87.42 69.0,87.80 70.0,87.33 71.0,87.94 72.0,88.51 73.0,89.12 74.0,88.62 75.0,89.11 76.0,89.91 77.0,89.53 78.0,89.95 79.0,90.07 80.0,90.55 81.0,90.39 82.0,89.30"/>
<polyline vector-effect="non-scaling-stroke" points="44.0,66.86 45.0,71.06 46.0,74.51 46.2,74.84 47.0,77.16 48.0,80.00 48.1,79.99 49.0,82.30 50.0,84.29 51.0,85.09 51.5,85.31 52.0,86.43 53.0,87.62 53.4,88.55 54.0,88.66 55.0,89.90 56.0,90.68 57.0,91.84 57.5,92.47 58.0,92.48 59.0,93.32 60.0,94.60 61.0,94.95 62.0,95.84 62.6,95.90 63.0,96.07 64.0,97.05 65.0,97.99 66.0,98.47 67.0,98.68 68.0,99.10 69.0,99.13 70.0,99.67 71.0,100.04 72.0,100.90 73.0,100.41 74.0,101.45 75.0,101.29 76.0,101.53 77.0,101.65 78.0,102.44 79.0,101.87 80.0,102.37 81.0,101.73 82.0,100.86"/>
<polyline vector-effect="non-scaling-stroke" points="44.0,78.10 45.0,81.49 46.0,84.88 46.2,85.83 47.0,87.33 48.0,90.85 48.1,90.98 49.0,92.90 50.0,94.83 51.0,96.11 51.5,96.15 52.0,97.25 53.0,98.45 53.4,99.64 54.0,100.17 55.0,100.94 56.0,102.20 57.0,102.86 57.5,103.48 58.0,103.61 59.0,105.18 60.0,106.01 61.0,106.51 62.0,106.38 62.6,107.35 63.0,106.79 64.0,107.77 65.0,108.16 66.0,108.18 67.0,108.94 68.0,109.78 69.0,109.76 70.0,109.70 71.0,110.39 72.0,110.12 73.0,110.78 74.0,110.49 75.0,110.35 76.0,111.33 77.0,110.66 78.0,110.86 79.0,111.37 80.0,110.80 81.0,110.63 82.0,110.35"/>
<polyline vector-effect="non-scaling-stroke" points="44.0,114.02 45.0,115.47 46.0,116.83 47.0,118.46 47.2,117.91 48.0,118.86 49.0,119.68 50.0,121.44 50.7,121.85 51.0,122.11 52.0,123.02 53.0,123.04 54.0,124.64 54.3,124.35 55.0,125.09 56.0,125.56 57.0,126.55 57.9,126.74 58.0,126.76 59.0,127.18 60.0,128.06 61.0,128.25 62.0,128.42 63.0,129.04 63.3,129.37 64.0,129.42 65.0,129.95 66.0,130.51 67.0,130.64 68.0,131.12 68.6,130.86 69.0,131.48 70.0,131.78 71.0,131.64 72.0,131.41 73.0,131.71 74.0,132.57 75.0,132.92 75.8,132.98 76.0,132.82 77.0,133.06 78.0,132.88 79.0,133.53 80.0,134.12 81.0,133.09 82.0,133.18"/>
</g>
<polygon fill="#000" points="230.3,88.5 231.3,88.5 232,100 232.8,112 233.6,125 234.4,138 234.6,150 234.5,165 234.3,180 225.3,180 225.6,165 225.9,150 226.3,140 227,125 228,112 229.2,100"/>
<g stroke="#000" stroke-width="2">
<line x1="58.81" y1="374.8" x2="58.81" y2="379"/>
<line x1="74.13" y1="371" x2="74.13" y2="379"/>
<line x1="89.44" y1="374.8" x2="89.44" y2="379"/>
<line x1="104.76" y1="371" x2="104.76" y2="379"/>
<line x1="120.08" y1="374.8" x2="120.08" y2="379"/>
<line x1="135.39" y1="371" x2="135.39" y2="379"/>
<line x1="150.71" y1="374.8" x2="150.71" y2="379"/>
<line x1="166.02" y1="371" x2="166.02" y2="379"/>
<line x1="181.34" y1="374.8" x2="181.34" y2="379"/>
<line x1="196.65" y1="371" x2="196.65" y2="379"/>
<line x1="211.97" y1="374.8" x2="211.97" y2="379"/>
<line x1="227.28" y1="371" x2="227.28" y2="379"/>
<line x1="242.59" y1="374.8" x2="242.59" y2="379"/>
<line x1="257.91" y1="371" x2="257.91" y2="379"/>
<line x1="273.23" y1="374.8" x2="273.23" y2="379"/>
<line x1="288.54" y1="371" x2="288.54" y2="379"/>
<line x1="303.86" y1="374.8" x2="303.86" y2="379"/>
<line x1="319.17" y1="371" x2="319.17" y2="379"/>
<line x1="334.49" y1="374.8" x2="334.49" y2="379"/>
<line x1="349.80" y1="371" x2="349.80" y2="379"/>
<line x1="365.12" y1="374.8" x2="365.12" y2="379"/>
<line x1="380.43" y1="371" x2="380.43" y2="379"/>
<line x1="395.75" y1="374.8" x2="395.75" y2="379"/>
<line x1="411.06" y1="371" x2="411.06" y2="379"/>
<line x1="426.38" y1="374.8" x2="426.38" y2="379"/>
<line x1="441.69" y1="371" x2="441.69" y2="379"/>
<line x1="457.00" y1="374.8" x2="457.00" y2="379"/>
<line x1="472.32" y1="371" x2="472.32" y2="379"/>
<line x1="487.64" y1="374.8" x2="487.64" y2="379"/>
<line x1="502.95" y1="371" x2="502.95" y2="379"/>
<line x1="518.27" y1="374.8" x2="518.27" y2="379"/>
</g>
<rect x="44" y="17" width="490" height="362" fill="none" stroke="#000" stroke-width="2.3"/>
<g font-size="16">
<text class="st" text-anchor="middle" transform="translate(85.7,179.6) scale(1.08,1)">A</text>
<text class="st" text-anchor="middle" transform="translate(99.5,194.1) scale(1.08,1)">L</text>
<text class="st" text-anchor="middle" transform="translate(114,198.0) scale(1.08,1)">A</text>
<text class="st" text-anchor="middle" transform="translate(126,201.9) scale(1.08,1)">M</text>
<text class="st" text-anchor="middle" transform="translate(144.4,163.9) scale(1.08,1)">G</text>
<text class="st" text-anchor="middle" transform="translate(173.3,190.79999999999998) scale(1.08,1)">A</text>
<text class="st" text-anchor="middle" transform="translate(181.4,196.79999999999998) scale(1.08,1)">L</text>
<text class="st" text-anchor="middle" transform="translate(198,198.79999999999998) scale(1.08,1)">M</text>
<text class="st" text-anchor="middle" transform="translate(216.2,184.7) scale(1.08,1)">G</text>
<text class="st" text-anchor="middle" transform="translate(228,77.69999999999999) scale(1.08,1)">M</text>
<text class="st" text-anchor="middle" transform="translate(224.4,97.89999999999999) scale(1.08,1)">A</text>
<text class="st" text-anchor="middle" transform="translate(241,115.0) scale(1.08,1)">G</text>
<text class="st" text-anchor="middle" transform="translate(241.1,130.1) scale(1.08,1)">L</text>
<text class="st" text-anchor="middle" transform="translate(250.4,209.9) scale(1.08,1)">A</text>
<text class="st" text-anchor="middle" transform="translate(258.2,204.9) scale(1.08,1)">G</text>
<text class="st" text-anchor="middle" transform="translate(267.8,203.79999999999998) scale(1.08,1)">G</text>
<text class="st" text-anchor="middle" transform="translate(276.9,214.9) scale(1.08,1)">M</text>
<text class="st" text-anchor="middle" transform="translate(295.8,224.0) scale(1.08,1)">A</text>
<text class="st" text-anchor="middle" transform="translate(305.5,224.0) scale(1.08,1)">L</text>
<text class="st" text-anchor="middle" transform="translate(327.2,227.0) scale(1.08,1)">G</text>
<text class="st" text-anchor="middle" transform="translate(333.3,191.79999999999998) scale(1.08,1)">L</text>
<text class="st" text-anchor="middle" transform="translate(342,187.79999999999998) scale(1.08,1)">M</text>
<text class="st" text-anchor="middle" transform="translate(354.3,209.0) scale(1.08,1)">A</text>
<text class="st" text-anchor="middle" transform="translate(362.9,197.9) scale(1.08,1)">M</text>
<text class="st" text-anchor="middle" transform="translate(377.4,209.0) scale(1.08,1)">L</text>
<text class="st" text-anchor="middle" transform="translate(387,204.9) scale(1.08,1)">A</text>
<text class="st" text-anchor="middle" transform="translate(397.6,179.7) scale(1.08,1)">M</text>
<text class="st" text-anchor="middle" transform="translate(206.8,333.3) scale(1.08,1)">S</text>
<text class="st" text-anchor="middle" transform="translate(291.1,348.0) scale(1.08,1)">S</text>
</g>
<text class="st" font-size="16" letter-spacing="1.000" transform="translate(311.40,33.0) scale(1.07,1)">A: <tspan class="sym gk">β</tspan><tspan class="sym ns">–</tspan>FeOOH L: <tspan class="sym gk">γ</tspan>-FeOOH</text>
<text class="st" font-size="16" letter-spacing="1.055" transform="translate(311.40,56.0) scale(1.07,1)">G: <tspan class="sym gk">α</tspan><tspan class="sym ns">–</tspan>FeOOH M: Fe<tspan font-size="10" dy="9.3">3</tspan><tspan dy="-9.3">O</tspan><tspan font-size="10" dy="9.3">4</tspan></text>
<text class="st" font-size="16" letter-spacing="1.056" transform="translate(311.80,87.6) scale(1.07,1)">S: NaCl</text>
<text class="st" font-size="16" letter-spacing="0.118" transform="translate(445.03,235.5) scale(1.07,1)">112 cycles</text>
<text class="st" font-size="16" letter-spacing="-0.067" transform="translate(455.50,266.2) scale(1.07,1)">84 cycles</text>
<text class="st" font-size="16" letter-spacing="0.050" transform="translate(453.60,294.7) scale(1.07,1)">56 cycles</text>
<text class="st" font-size="16" letter-spacing="-0.183" transform="translate(454.10,325.5) scale(1.07,1)">28 cycles</text>
<text class="st" font-size="16" letter-spacing="-0.175" transform="translate(454.03,358.7) scale(1.07,1)">14 cycles</text>
<text class="st" font-size="20" transform="translate(247.70,436.6) scale(0.8636,1)">2</text>
<text class="" font-size="20" transform="translate(259.39,436.6) scale(1.4125,1)"><tspan class="sym" font-style="italic">θ</tspan></text>
<text class="st" font-size="20" letter-spacing="-0.450" transform="translate(273.23,436.6) scale(1.07,1)">(deg.)</text>
<text class="st" font-size="17.5" letter-spacing="1.8" x="38.50" y="400.6">5</text>
<text class="st" font-size="17.5" letter-spacing="1.8" x="63.13" y="400.6">10</text>
<text class="st" font-size="17.5" letter-spacing="1.8" x="93.76" y="400.6">15</text>
<text class="st" font-size="17.5" letter-spacing="1.8" x="124.89" y="400.6">20</text>
<text class="st" font-size="17.5" letter-spacing="1.8" x="155.52" y="400.6">25</text>
<text class="st" font-size="17.5" letter-spacing="1.8" x="186.15" y="400.6">30</text>
<text class="st" font-size="17.5" letter-spacing="1.8" x="216.78" y="400.6">35</text>
<text class="st" font-size="17.5" letter-spacing="1.8" x="247.41" y="400.6">40</text>
<text class="st" font-size="17.5" letter-spacing="1.8" x="278.04" y="400.6">45</text>
<text class="st" font-size="17.5" letter-spacing="1.8" x="308.67" y="400.6">50</text>
<text class="st" font-size="17.5" letter-spacing="1.8" x="339.30" y="400.6">55</text>
<text class="st" font-size="17.5" letter-spacing="1.8" x="369.93" y="400.6">60</text>
<text class="st" font-size="17.5" letter-spacing="1.8" x="400.56" y="400.6">65</text>
<text class="st" font-size="17.5" letter-spacing="1.8" x="431.19" y="400.6">70</text>
<text class="st" font-size="17.5" letter-spacing="1.8" x="461.82" y="400.6">75</text>
<text class="st" font-size="17.5" letter-spacing="1.8" x="492.45" y="400.6">80</text>
<text class="st" font-size="17.5" letter-spacing="1.8" x="523.08" y="400.6">85</text>
<text class="st" font-size="21" transform="translate(25.6,278.9) rotate(-90)">Intensity(a.u.)</text>
</svg>
</body></html>
